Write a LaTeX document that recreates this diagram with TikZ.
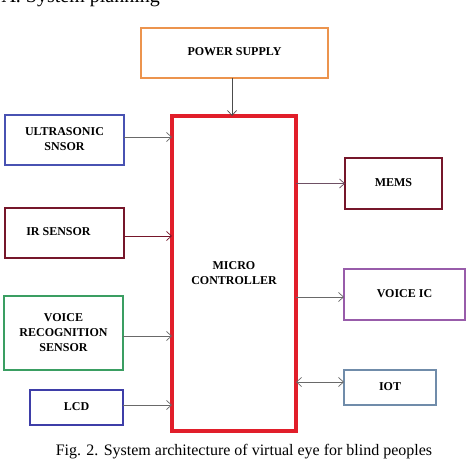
\documentclass[tikz,border=0pt]{standalone}
\usepackage{fontspec}
\setmainfont{Liberation Serif}
\usepackage{graphicx}
\usetikzlibrary{arrows.meta}
\definecolor{cOrange}{RGB}{236,148,78}
\definecolor{cRed}{RGB}{225,30,42}
\definecolor{cBlue}{RGB}{72,82,178}
\definecolor{cDark}{RGB}{118,22,42}
\definecolor{cGreen}{RGB}{58,158,98}
\definecolor{cLcd}{RGB}{62,62,168}
\definecolor{cPurple}{RGB}{152,92,170}
\definecolor{cIot}{RGB}{112,140,170}
\definecolor{cArrow}{RGB}{105,105,105}
\definecolor{cMemsArrow}{RGB}{110,80,100}
\tikzset{
  blk/.style={draw, line width=1.8pt, rectangle, inner sep=0pt, outer sep=0pt,
    align=center, font=\fontsize{12}{15}\selectfont\bfseries},
  tip/.tip={Straight Barb[length=5pt,width=9pt]},
  conn/.style={line width=0.7pt, draw=cArrow, -tip},
}
\newcommand{\lines}[2]{\raisebox{#1}{\begin{tabular}{@{}c@{}}#2\end{tabular}}}
\begin{document}
\begin{tikzpicture}[x=1pt,y=-1pt]
\useasboundingbox (0,0) rectangle (474,465);
\fill[white] (0,0) rectangle (474,465);
\node[anchor=base west, font=\fontsize{20}{24}\selectfont] (head) at (-2,2.5) {A. System planning};

\node[blk, draw=cOrange, minimum width=187pt, minimum height=50pt] (PS) at (234.5,53) {\lines{5pt}{POWER SUPPLY}};
\node[blk, draw=cRed, line width=3.4pt, minimum width=124pt, minimum height=315pt] (MC) at (234,273.5) {\lines{8pt}{MICRO\\CONTROLLER}};

\node[blk, draw=cBlue, minimum width=119pt, minimum height=50pt] (US) at (64.5,140) {\lines{4pt}{ULTRASONIC\\SNSOR}};
\node[blk, draw=cDark, minimum width=119pt, minimum height=50pt] (IR) at (64.5,233) {\lines{5pt}{\hspace*{-12pt}IR SENSOR}};
\node[blk, draw=cGreen, minimum width=119pt, minimum height=74pt] (VR) at (63.5,333) {\lines{4pt}{VOICE\\RECOGNITION\\SENSOR}};
\node[blk, draw=cLcd, minimum width=93pt, minimum height=35pt] (LCD) at (76.5,407.5) {\lines{4.5pt}{LCD}};

\node[blk, draw=cDark, minimum width=97pt, minimum height=51pt] (MEMS) at (393.5,183.5) {\lines{5pt}{MEMS}};
\node[blk, draw=cPurple, minimum width=121pt, minimum height=51pt] (VIC) at (404.5,294.5) {\lines{5pt}{VOICE IC}};
\node[blk, draw=cIot, minimum width=92pt, minimum height=35pt] (IOT) at (390,387.5) {\lines{4.5pt}{IOT}};

\draw[conn, draw=black!70] (PS.south -| 232,0) -- (MC.north -| 232,0);
\draw[conn] ([yshift=3pt]US.east) -- ([yshift=3pt]US.east -| MC.west);
\draw[conn, draw=cDark] ([yshift=-3pt]IR.east) -- ([yshift=-3pt]IR.east -| MC.west);
\draw[conn] ([yshift=-3pt]VR.east) -- ([yshift=-3pt]VR.east -| MC.west);
\draw[conn] ([yshift=2.5pt]LCD.east) -- ([yshift=2.5pt]LCD.east -| MC.west);
\draw[conn, draw=cMemsArrow] (MC.east |- MEMS.west) -- (MEMS.west);
\draw[conn] ([yshift=-2.5pt]MC.east |- VIC.west) -- ([yshift=-2.5pt]VIC.west);
\draw[conn, tip-tip] ([yshift=5.5pt]MC.east |- IOT.west) -- ([yshift=5.5pt]IOT.west);

\node[anchor=base, font=\fontsize{16}{19}\selectfont] (cap) at (244,455) {Fig. 2. System architecture of virtual eye for blind peoples};
\end{tikzpicture}
\end{document}
